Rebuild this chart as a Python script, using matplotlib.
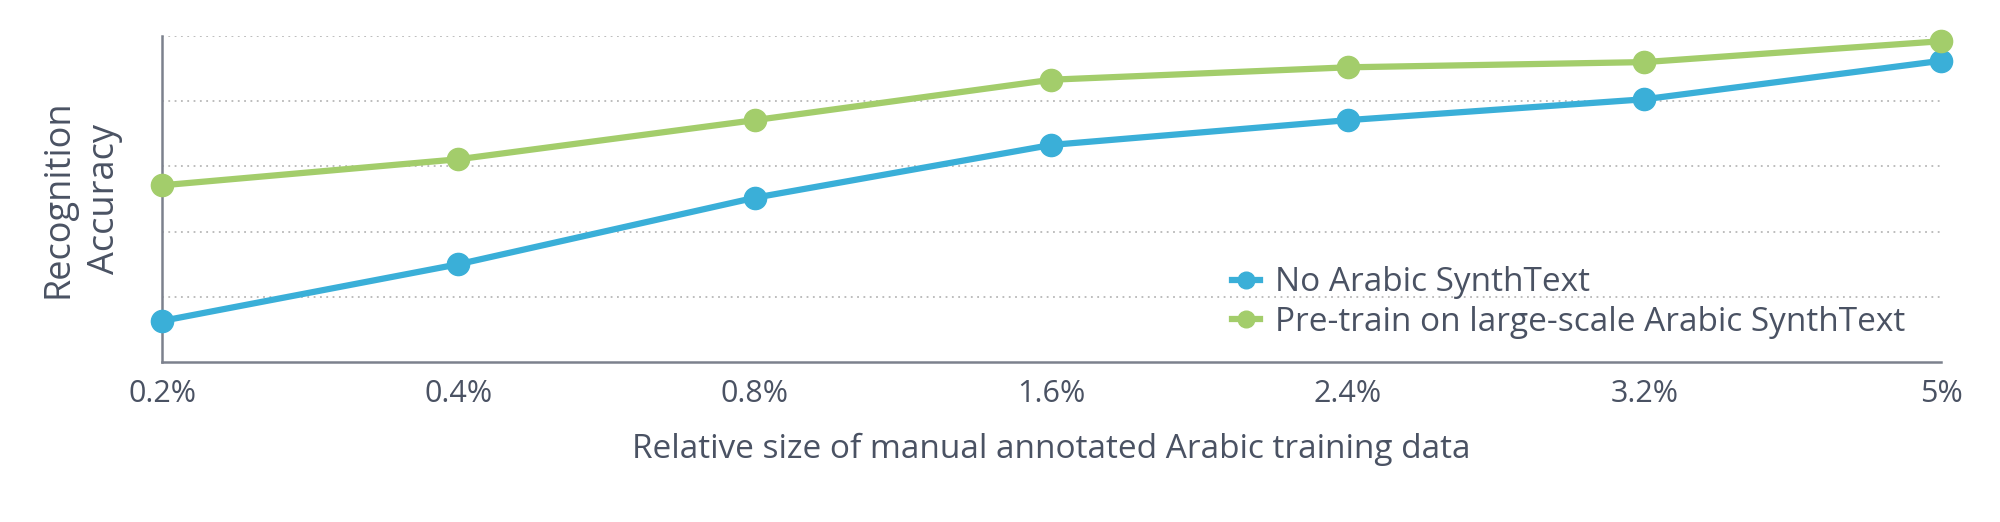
import numpy as np
import matplotlib.pyplot as plt

# data (y is in grid units, no scale shown)
sizes = ['0.2%', '0.4%', '0.8%', '1.6%', '2.4%', '3.2%', '5%']
no_synth = [0.63, 1.50, 2.52, 3.33, 3.71, 4.03, 4.62]
pretrain = [2.71, 3.11, 3.71, 4.33, 4.52, 4.60, 4.92]

blue = '#3aafd8'
green = '#a3cd6b'
txt = '#4a5263'

plt.rcParams['font.family'] = ['Open Sans', 'DejaVu Sans']

fig = plt.figure(figsize=(20, 5.22), dpi=100)
ax = fig.add_axes([0.081, 0.3065, 0.8895, 0.6245])

x = np.arange(len(sizes))
ax.plot(x, no_synth, color=blue, lw=4.5, marker='o', ms=16, clip_on=False, zorder=3,
        label='No Arabic SynthText')
ax.plot(x, pretrain, color=green, lw=4.5, marker='o', ms=16, clip_on=False, zorder=3,
        label='Pre-train on large-scale Arabic SynthText')

ax.set_xlim(0, 6)
ax.set_ylim(0, 5)
ax.set_xticks(x)
ax.set_xticklabels(sizes)
ax.set_yticks([1, 2, 3, 4, 5])
ax.set_yticklabels([])
ax.tick_params(axis='both', length=0, labelsize=22, colors=txt, pad=12)

ax.grid(axis='y', linestyle=(0, (1, 2.5)), color='#b8b8b8', lw=1.3)
ax.set_axisbelow(True)
for s in ['top', 'right']:
    ax.spines[s].set_visible(False)
for s in ['left', 'bottom']:
    ax.spines[s].set_color('#7c818d')
    ax.spines[s].set_linewidth(1.8)

ax.set_xlabel('Relative size of manual annotated Arabic training data', fontsize=24,
              color=txt, labelpad=17)
ax.set_ylabel('Recognition\nAccuracy', fontsize=26, color=txt, labelpad=16,
              linespacing=1.4)

leg = ax.legend(loc='upper left', bbox_to_anchor=(0.592, 0.345), frameon=False,
                fontsize=24, handlelength=0.85, handletextpad=0.45, markerscale=0.75,
                labelspacing=0.2, borderpad=0)
for t in leg.get_texts():
    t.set_color(txt)

fig.savefig('out.png', dpi=100)
